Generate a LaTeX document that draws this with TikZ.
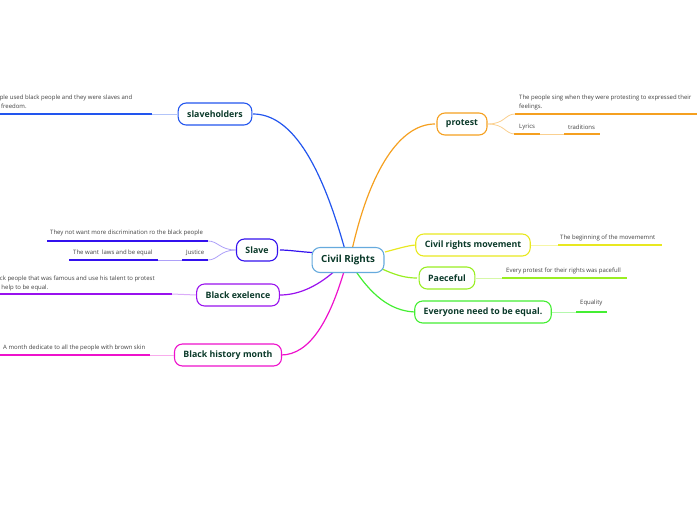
\documentclass[tikz,border=0pt]{standalone}
\usepackage{fontspec}
\setmainfont{Open Sans}
\begin{document}
\begin{tikzpicture}[x=1pt,y=-1pt,
  topic/.style={draw=#1,line width=1.1pt,rounded corners=8pt,fill=white,minimum height=22pt,inner xsep=9pt,font=\fontsize{8.8}{10}\selectfont\bfseries,text=txt},
  leaf/.style={font=\fontsize{6}{7}\selectfont,text=black!75,anchor=west,inner sep=0pt,align=left},
  ]
\definecolor{txt}{HTML}{0B3A2A}
\definecolor{cA}{HTML}{2255EE}\definecolor{cB}{HTML}{3311EE}
\definecolor{cC}{HTML}{9911EE}\definecolor{cD}{HTML}{EE11CC}
\definecolor{cE}{HTML}{F5A020}\definecolor{cF}{HTML}{E8E820}
\definecolor{cG}{HTML}{99EE22}\definecolor{cH}{HTML}{44EE33}
\definecolor{cen}{HTML}{66AADD}
\useasboundingbox (0,0) rectangle (697,520);
\draw[cA,line width=1.2pt] (345,250) .. controls (320,160) and (290,114) .. (253,114);
\draw[cB,line width=1.2pt] (320,253) .. controls (300,252) and (290,250) .. (280,250);
\draw[cC,line width=1.2pt] (338,268) .. controls (320,285) and (300,295) .. (280,295);
\draw[cD,line width=1.2pt] (345,268) .. controls (330,320) and (310,355) .. (281,355);
\draw[cE,line width=1.2pt] (352,250) .. controls (370,170) and (400,124) .. (435,124);
\draw[cF,line width=1.2pt] (385,252) .. controls (400,248) and (410,245) .. (417,245);
\draw[cG,line width=1.2pt] (380,268) .. controls (395,275) and (405,278) .. (417,278);
\draw[cH,line width=1.2pt] (355,270) .. controls (375,300) and (395,312) .. (417,312);
\node[topic=cen,minimum height=25pt,font=\fontsize{9.8}{11}\selectfont\bfseries] (cr) at (348,260) {Civil Rights};
\node[topic=cA] (sh) at (215,114) {slaveholders};
\node[topic=cB] (sl) at (257,250) {Slave};
\node[topic=cC] (be) at (238,295) {Black exelence};
\node[topic=cD] (bh) at (228,355) {Black history month};
\node[topic=cE] (pr) at (462,124) {protest};
\node[topic=cF] (cm) at (473,245) {Civil rights movement};
\node[topic=cG] (pa) at (447,278) {Paeceful};
\node[topic=cH] (ev) at (483,312) {Everyone need to be equal.};
% slaveholders leaf
\draw[cA!35,line width=1pt] (sh.west) -- (152,114);
\draw[cA,line width=1.3pt] (152,114) -- (-5,114);
\node[leaf] at (-23,98) {The people used black people and they were slaves and};
\node[leaf] at (-8,106) {no freedom.};
% slave leaves
\draw[cB!40,line width=0.8pt] (sl.west) .. controls (220,250) and (218,241) .. (208,241);
\draw[cB!40,line width=0.8pt] (sl.west) .. controls (220,250) and (218,260) .. (208,260);
\draw[cB,line width=1.3pt] (208,241) -- (47,241);
\draw[cB,line width=1.3pt] (208,260) -- (182,260);
\draw[cB!40,line width=0.8pt] (182,260) -- (158,260);
\draw[cB,line width=1.3pt] (158,260) -- (69,260);
\node[leaf] at (50,233) {They not want more discrimination ro the black people};
\node[leaf] at (73,253) {The want\ \ laws and be equal};
\node[leaf] at (186,253) {Justice};
% black excellence
\draw[cC!35,line width=1pt] (be.west) -- (172,294);
\draw[cC,line width=1.3pt] (172,294) -- (-5,294);
\node[leaf] at (-9,279) {Black people that was famous and use his talent to protest};
\node[leaf] at (-11,288) {and help to be equal.};
% black history month
\draw[cD!35,line width=1pt] (bh.west) -- (150,355);
\draw[cD,line width=1.3pt] (150,355) -- (-5,355);
\node[leaf] at (3,348) {A month dedicate to all the people with brown skin};
% protest
\draw[cE!50,line width=0.8pt] (pr.east) .. controls (505,124) and (505,114) .. (515,114);
\draw[cE!50,line width=0.8pt] (pr.east) .. controls (505,124) and (505,134) .. (515,134);
\draw[cE,line width=1.3pt] (515,114) -- (700,114);
\draw[cE,line width=1.3pt] (514,134) -- (540,134);
\draw[cE!50,line width=0.8pt] (540,134) -- (564,134);
\draw[cE,line width=1.3pt] (564,134) -- (600,134);
\node[leaf] at (519,98) {The people sing when they were protesting to expressed their};
\node[leaf] at (519,107) {feelings.};
\node[leaf] at (519,127) {Lyrics};
\node[leaf] at (568,127) {traditions};
% right leaves
\draw[cF!40,line width=1pt] (cm.east) -- (558,245);
\draw[cF,line width=1.3pt] (558,245) -- (662,245);
\node[leaf] at (560,238) {The beginning of the movememnt};
\draw[cG!40,line width=1pt] (pa.east) -- (502,278);
\draw[cG,line width=1.3pt] (502,278) -- (627,278);
\node[leaf] at (506,271) {Every protest for their rights was pacefull};
\draw[cH!40,line width=1pt] (ev.east) -- (576,312);
\draw[cH,line width=1.3pt] (576,312) -- (607,312);
\node[leaf] at (580,303) {Equality};
\end{tikzpicture}
\end{document}
